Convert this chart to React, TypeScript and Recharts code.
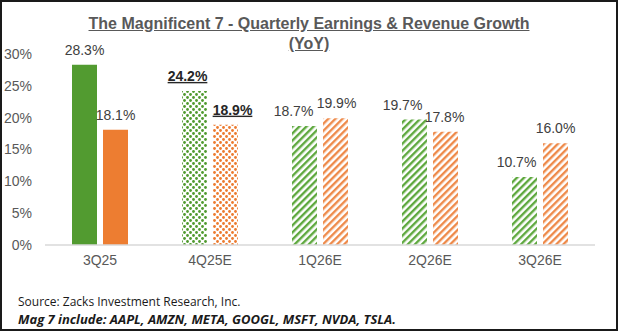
import { BarChart, Bar, XAxis, YAxis, Cell, LabelList } from "recharts";

// quarters and YoY growth (%)
const quarters = ["3Q25", "4Q25E", "1Q26E", "2Q26E", "3Q26E"];
const earningsGrowth = [28.3, 24.2, 18.7, 19.7, 10.7];
const revenueGrowth = [18.1, 18.9, 19.9, 17.8, 16.0];
const yTicks = [0, 5, 10, 15, 20, 25, 30];

// fill style per quarter: actual, current-quarter estimate, later estimates
const fillKind = ["solid", "dots", "stripes", "stripes", "stripes"];

const GREEN = "#529b30";
const ORANGE = "#ed7d31";

// small horizontal nudges so neighbouring labels don't collide
const earnNudge = [0, -7, -11, -12, -8];
const revNudge = [0, 7, 1, -1, 0];

const data = quarters.map((q, i) => ({
  q,
  earnings: earningsGrowth[i],
  revenue: revenueGrowth[i],
}));

const fillFor = (kind: string, color: "g" | "o") => {
  if (kind === "solid") return color === "g" ? GREEN : ORANGE;
  return `url(#${kind}-${color})`;
};

const makeLabel = (nudge: number[]) => (props: any) => {
  const { x, y, width, value, index } = props;
  const bold = fillKind[index] === "dots";
  return (
    <text
      x={x + width / 2 + nudge[index]}
      y={y - 10}
      textAnchor="middle"
      fontSize={14}
      fontWeight={bold ? 700 : 400}
      fill={bold ? "#262626" : "#404040"}
      textDecoration={bold ? "underline" : undefined}
      fontFamily="'Liberation Sans', Arial, sans-serif"
    >
      {`${Number(value).toFixed(1)}%`}
    </text>
  );
};

const App = () => {
  return (
    <div
      style={{
        position: "absolute",
        left: 0,
        top: 0,
        width: 620,
        height: 331,
        background: "#fff",
        fontFamily: "'Liberation Sans', Arial, sans-serif",
      }}
    >
      <div
        style={{
          position: "absolute",
          left: 0,
          top: 0,
          width: 614,
          height: 327,
          border: "2px solid #1a1a1a",
        }}
      />
      <div
        style={{
          position: "absolute",
          left: 0,
          top: 14,
          width: 618,
          textAlign: "center",
          fontSize: 16,
          lineHeight: "20px",
          fontWeight: 700,
          color: "#595959",
          textDecoration: "underline",
        }}
      >
        The Magnificent 7 - Quarterly Earnings &amp; Revenue Growth
        <br />
        (YoY)
      </div>

      <div style={{ position: "absolute", left: 0, top: 0 }}>
        <BarChart
          width={620}
          height={275}
          data={data}
          margin={{ top: 54, right: 25, bottom: 0, left: 0 }}
          barSize={25}
          barGap={6}
        >
          <defs>
            <pattern id="dots-g" patternUnits="userSpaceOnUse" width="6" height="6">
              <circle cx="1.5" cy="1.5" r="1.4" fill="#4f9a2e" />
              <circle cx="4.5" cy="4.5" r="1.4" fill="#4f9a2e" />
            </pattern>
            <pattern id="dots-o" patternUnits="userSpaceOnUse" width="6" height="6">
              <circle cx="1.5" cy="1.5" r="1.4" fill="#ec7a2e" />
              <circle cx="4.5" cy="4.5" r="1.4" fill="#ec7a2e" />
            </pattern>
            <pattern
              id="stripes-g"
              patternUnits="userSpaceOnUse"
              width="5"
              height="5"
              patternTransform="rotate(45)"
            >
              <rect x="0" y="0" width="2.4" height="5" fill="#5ea83e" />
            </pattern>
            <pattern
              id="stripes-o"
              patternUnits="userSpaceOnUse"
              width="5"
              height="5"
              patternTransform="rotate(45)"
            >
              <rect x="0" y="0" width="2.4" height="5" fill="#ee8a4a" />
            </pattern>
          </defs>
          <XAxis
            dataKey="q"
            height={30}
            tickSize={0}
            tickMargin={10}
            axisLine={{ stroke: "#d9d9d9", strokeWidth: 1.5 }}
            tick={{ fontSize: 14, fill: "#595959" }}
          />
          <YAxis
            width={45}
            domain={[0, 30]}
            ticks={yTicks}
            tickSize={0}
            tickMargin={13}
            axisLine={false}
            tick={{ fontSize: 14, fill: "#595959" }}
            tickFormatter={(v) => `${v}%`}
          />
          <Bar dataKey="earnings" isAnimationActive={false}>
            {data.map((_, i) => (
              <Cell key={i} fill={fillFor(fillKind[i], "g")} />
            ))}
            <LabelList dataKey="earnings" content={makeLabel(earnNudge)} />
          </Bar>
          <Bar dataKey="revenue" isAnimationActive={false}>
            {data.map((_, i) => (
              <Cell key={i} fill={fillFor(fillKind[i], "o")} />
            ))}
            <LabelList dataKey="revenue" content={makeLabel(revNudge)} />
          </Bar>
        </BarChart>
      </div>

      <div
        style={{
          position: "absolute",
          left: 18,
          top: 293,
          fontFamily: "'Open Sans', sans-serif",
          fontSize: 12,
          lineHeight: "18px",
          color: "#1a1a1a",
        }}
      >
        <div>Source: Zacks Investment Research, Inc.</div>
        <div style={{ fontSize: 13, lineHeight: "17px", fontWeight: 700, fontStyle: "italic" }}>
          Mag 7 include: AAPL, AMZN, META, GOOGL, MSFT, NVDA, TSLA.
        </div>
      </div>
    </div>
  );
};

export default App;
